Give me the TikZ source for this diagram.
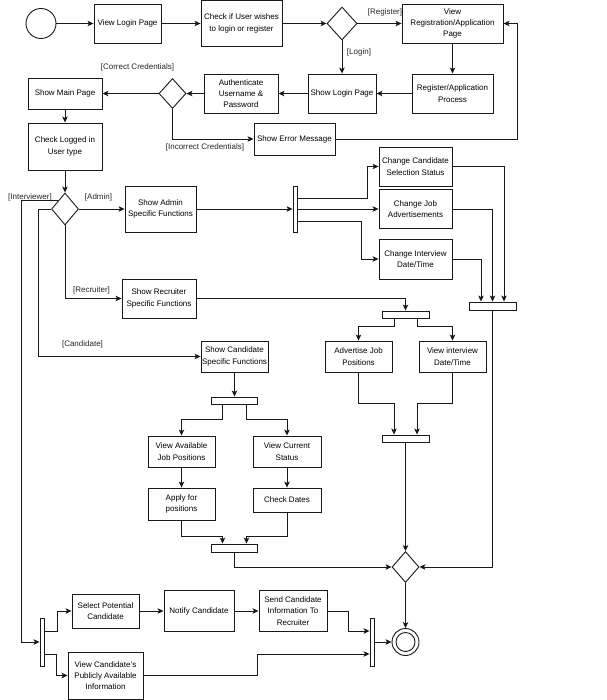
\documentclass[tikz,border=0pt]{standalone}
\usepackage{fontspec}
\setmainfont{Liberation Sans}
\usetikzlibrary{shapes.geometric,arrows.meta,calc}
\begin{document}
\begin{tikzpicture}[x=1pt,y=-1pt,
  every node/.style={font=\fontsize{8}{11.3}\selectfont},
  box/.style={draw=black!90,line width=0.9pt,fill=white,rectangle,align=center,inner sep=1pt},
  bar/.style={draw=black!90,line width=0.9pt,fill=white,rectangle,inner sep=0pt},
  dec/.style={draw=black!90,line width=0.9pt,fill=white,diamond,inner sep=0pt},
  lbl/.style={inner sep=0pt,text=black!85},
  arr/.style={draw=black!90,line width=0.9pt,-{Stealth[length=6pt,width=5.5pt,inset=1.5pt]}},
  ln/.style={draw=black!90,line width=0.9pt}]
\useasboundingbox (0,0) rectangle (606,700);
\fill[white] (0,0) rectangle (606,700);
% nodes
\node[draw=black!90,line width=0.9pt,circle,minimum size=30pt,inner sep=0pt] (start) at (41,23.5) {};
\node[box,minimum width=67pt,minimum height=39pt] (vlp) at (127.5,23.5) {View Login Page};
\node[box,minimum width=81pt,minimum height=46pt] (chk) at (241.5,23.5) {Check if User wishes\\to login or register};
\node[dec,minimum width=30pt,minimum height=33pt] (d1) at (342,23.5) {};
\node[box,minimum width=101pt,minimum height=39pt] (vreg) at (452.5,23.5) {View\\Registration/Application\\Page};
\node[box,minimum width=68pt,minimum height=39pt] (slp) at (342,93.5) {Show Login Page};
\node[box,minimum width=81pt,minimum height=39pt] (regp) at (452.5,93.5) {Register/Application\\Process};
\node[box,minimum width=74pt,minimum height=39pt] (auth) at (241,93.5) {Authenticate\\Username \&\\Password};
\node[dec,minimum width=27pt,minimum height=30pt] (d2) at (172.5,93.5) {};
\node[box,minimum width=74pt,minimum height=31pt] (smp) at (65,93.5) {Show Main Page};
\node[box,minimum width=81pt,minimum height=32pt] (err) at (294.5,139) {Show Error Message};
\node[box,minimum width=74pt,minimum height=47pt] (clu) at (65,146.5) {Check Logged in\\User type};
\node[dec,minimum width=27pt,minimum height=32pt] (d3) at (65,209) {};
\node[box,minimum width=71pt,minimum height=46pt] (admin) at (160.5,209) {Show Admin\\Specific Functions};
\node[bar,minimum width=4pt,minimum height=46pt] (fbar1) at (295,209) {};
\node[box,minimum width=73pt,minimum height=39pt] (ccs) at (415.5,166.5) {Change Candidate\\Selection Status};
\node[box,minimum width=73pt,minimum height=39pt] (cja) at (415.5,209) {Change Job\\Advertisements};
\node[box,minimum width=73pt,minimum height=40pt] (cid) at (415.5,259) {Change Interview\\Date/Time};
\node[bar,minimum width=47pt,minimum height=8pt] (jbar1) at (492.5,306) {};
\node[box,minimum width=74pt,minimum height=39pt] (rec) at (159,298.5) {Show Recruiter\\Specific Functions};
\node[bar,minimum width=47pt,minimum height=7pt] (fbar2) at (405.5,314.5) {};
\node[box,minimum width=67pt,minimum height=31pt] (cand) at (234.5,356.5) {Show Candidate\\Specific Functions};
\node[box,minimum width=67pt,minimum height=31pt] (ajp) at (358.5,356.5) {Advertise Job\\Positions};
\node[box,minimum width=67pt,minimum height=31pt] (vid) at (452.5,356.5) {View interview\\Date/Time};
\node[bar,minimum width=46pt,minimum height=7pt] (fbar4) at (234.5,400.5) {};
\node[box,minimum width=67pt,minimum height=31pt] (vaj) at (181.5,451.5) {View Available\\Job Positions};
\node[box,minimum width=68pt,minimum height=31pt] (vcs) at (287,451.5) {View Current\\Status};
\node[bar,minimum width=47pt,minimum height=7pt] (jbar3) at (405.5,438.5) {};
\node[box,minimum width=67pt,minimum height=32pt] (apply) at (181.5,504) {Apply for\\positions};
\node[box,minimum width=68pt,minimum height=24pt] (cdates) at (287,500) {Check Dates};
\node[bar,minimum width=46pt,minimum height=8pt] (jbar4) at (234.5,548) {};
\node[dec,minimum width=27pt,minimum height=31pt] (d4) at (405.5,567) {};
\node[draw=black!90,line width=0.9pt,circle,minimum size=27pt,inner sep=0pt] (final) at (405.5,642) {};
\draw[ln] (final.center) circle[radius=9.5pt];
\node[bar,minimum width=4pt,minimum height=48pt] (fbar5) at (42,642) {};
\node[box,minimum width=67pt,minimum height=34pt] (spc) at (105.5,611) {Select Potential\\Candidate};
\node[box,minimum width=70pt,minimum height=41pt] (notify) at (199,611) {Notify Candidate};
\node[box,minimum width=68pt,minimum height=41pt] (send) at (293,611) {Send Candidate\\Information To\\Recruiter};
\node[bar,minimum width=4pt,minimum height=48pt] (jbar6) at (372,642) {};
\node[box,minimum width=75pt,minimum height=47pt] (vcp) at (105.5,675.5) {View Candidate's\\Publicly Available\\Information};
% labels
\node[lbl] (lreg) at (385,12) {[Register]};
\node[lbl] (llog) at (359,52) {[Login]};
\node[lbl] (lcc) at (137.5,67) {[Correct Credentials]};
\node[lbl] (lic) at (205,147) {[Incorrect Credentials]};
\node[lbl] (lint) at (30,197) {[Interviewer]};
\node[lbl] (ladm) at (98.5,197) {[Admin]};
\node[lbl] (lrec) at (91.5,290) {[Recruiter]};
\node[lbl] (lcan) at (82.5,344) {[Candidate]};
% connectors
\draw[arr] (start.east) -- (vlp.west);
\draw[arr] (vlp.east) -- (chk.west);
\draw[arr] (chk.east) -- (d1.west);
\draw[arr] (d1.east) -- (vreg.west);
\draw[arr] (d1.south) -- (slp.north);
\draw[arr] (vreg.south) -- (regp.north);
\draw[arr] (regp.west) -- (slp.east);
\draw[arr] (slp.west) -- (auth.east);
\draw[arr] (auth.west) -- (d2.east);
\draw[arr] (d2.west) -- (smp.east);
\draw[arr] (d2.south) |- (err.west);
\draw[arr] (err.east) -| ([xshift=14pt]vreg.east) -- (vreg.east);
\draw[arr] (smp.south) -- (clu.north);
\draw[arr] (clu.south) -- (d3.north);
\draw[arr] (d3.east) -- (admin.west);
\draw[arr] (admin.east) -- (fbar1.west);
\draw[arr] ([yshift=11pt]fbar1.east) -| ($(ccs.west)+(-11,0)$) -- (ccs.west);
\draw[arr] (fbar1.east) -- (cja.west);
\draw[arr] ([yshift=-12pt]fbar1.east) -| ($(cid.west)+(-17,0)$) -- (cid.west);
\draw[arr] (ccs.east) -| ([xshift=11.5pt]jbar1.north);
\draw[arr] (cja.east) -| (jbar1.north);
\draw[arr] (cid.east) -| ([xshift=-11.5pt]jbar1.north);
\draw[arr] (jbar1.south) |- (d4.east);
\draw[arr] (d3.south) |- (rec.west);
\draw[arr] (rec.east) -| (fbar2.north);
\draw[arr] ([xshift=-11.5pt]fbar2.south) |- ($(ajp.north)+(0,-14)$) -- (ajp.north);
\draw[arr] ([xshift=11.5pt]fbar2.south) |- ($(vid.north)+(0,-14)$) -- (vid.north);
\draw[arr] (ajp.south) -- ($(ajp.south)+(0,31)$) -| ([xshift=-11.5pt]jbar3.north);
\draw[arr] (vid.south) -- ($(vid.south)+(0,31)$) -| ([xshift=11.5pt]jbar3.north);
\draw[arr] (jbar3.south) -- (d4.north);
\draw[arr] (d3.west) -- ++(-12.5,0) |- (cand.west);
\draw[arr] (cand.south) -- (fbar4.north);
\draw[arr] ([xshift=-12pt]fbar4.south) |- ($(vaj.north)+(0,-16)$) -- (vaj.north);
\draw[arr] ([xshift=12pt]fbar4.south) |- ($(vcs.north)+(0,-16)$) -- (vcs.north);
\draw[arr] (vaj.south) -- (apply.north);
\draw[arr] (vcs.south) -- (cdates.north);
\draw[arr] (apply.south) -- ++(0,16) -| ([xshift=-12pt]jbar4.north);
\draw[arr] (cdates.south) -- ++(0,24) -| ([xshift=12pt]jbar4.north);
\draw[arr] (jbar4.south) |- (d4.west);
\draw[arr] (d4.south) -- (final.north);
\draw[arr] (d3.north west) -- ++(-37,0) |- (fbar5.west);
\draw[arr] ([yshift=11pt]fbar5.east) -| ($(spc.west)+(-14,0)$) -- (spc.west);
\draw[arr] ([yshift=-12pt]fbar5.east) -| ($(vcp.west)+(-11,0)$) -- (vcp.west);
\draw[arr] (spc.east) -- (notify.west);
\draw[arr] (notify.east) -- (send.west);
\draw[arr] (send.east) -- ++(21,0) |- ([yshift=11pt]jbar6.west);
\draw[arr] (vcp.east) -- ++(114,0) |- ([yshift=-12pt]jbar6.west);
\draw[arr] (jbar6.east) -- (final.west);
\end{tikzpicture}
\end{document}
